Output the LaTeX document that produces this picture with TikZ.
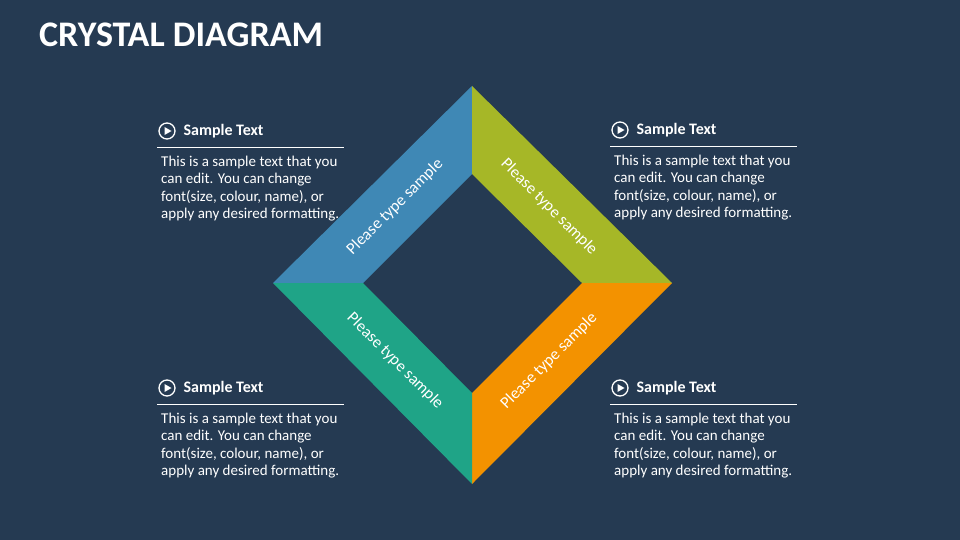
\documentclass[tikz,border=0pt]{standalone}
\usepackage{fontspec}
\setmainfont{Carlito}
\definecolor{bg}{HTML}{253A52}
\definecolor{cblue}{HTML}{3F88B5}
\definecolor{cgreen}{HTML}{A6B727}
\definecolor{corange}{HTML}{F39200}
\definecolor{cteal}{HTML}{1FA487}
\tikzset{
 band/.style={font=\fontsize{16.5}{18}\selectfont, text=white},
 head/.style={font=\bfseries\fontsize{16}{17}\selectfont, text=white, anchor=west},
 body/.style={font=\fontsize{15}{17.2}\selectfont, text=white, anchor=north west, align=left, inner sep=0pt},
 icon/.style={circle, draw=white, line width=1.3pt, minimum size=16pt, inner sep=0pt},
}
\newcommand{\infoblock}[3]{% x y name
 \node[icon] (#3i) at (#1+10,#2) {};
 \fill[white] ([xshift=-2.5pt,yshift=4pt]#3i.center) -- ([xshift=4.5pt]#3i.center) -- ([xshift=-2.5pt,yshift=-4pt]#3i.center) -- cycle;
 \node[head] (#3h) at (#1+23,#2) {Sample Text};
 \coordinate (#3a) at (#1,#2+16);
 \coordinate (#3b) at (#1+187,#2+16);
 \draw[white, line width=0.8pt] (#3a) -- (#3b);
 \node[body] (#3t) at (#1+4,#2+25) {This is a sample text that you\\can edit. You can change\\font(size, colour, name), or\\apply any desired formatting.};
}
\begin{document}
\begin{tikzpicture}[x=1pt,y=-1pt]
\fill[bg] (0,0) rectangle (960,540);
\useasboundingbox (0,0) rectangle (960,540);
\node[font=\bfseries\fontsize{36}{38}\selectfont, text=white, anchor=west, inner sep=0pt] (title) at (39,35) {CRYSTAL DIAGRAM};
\fill[cblue] (273,283) -- (472,86) -- (472,174) -- (363,283) -- cycle;
\fill[cgreen] (472,86) -- (672,283) -- (582,283) -- (472,174) -- cycle;
\fill[corange] (672,283) -- (472,484) -- (472,393) -- (582,283) -- cycle;
\fill[cteal] (472,484) -- (273,283) -- (363,283) -- (472,393) -- cycle;
\node[band, rotate=45] (b1) at (395,207) {Please type sample};
\node[band, rotate=-45] (b2) at (549,207) {Please type sample};
\node[band, rotate=45] (b3) at (549,361) {Please type sample};
\node[band, rotate=-45] (b4) at (395,361) {Please type sample};
\infoblock{157}{131}{p}
\infoblock{610}{130}{q}
\infoblock{157}{388}{r}
\infoblock{610}{388}{s}
\end{tikzpicture}
\end{document}
